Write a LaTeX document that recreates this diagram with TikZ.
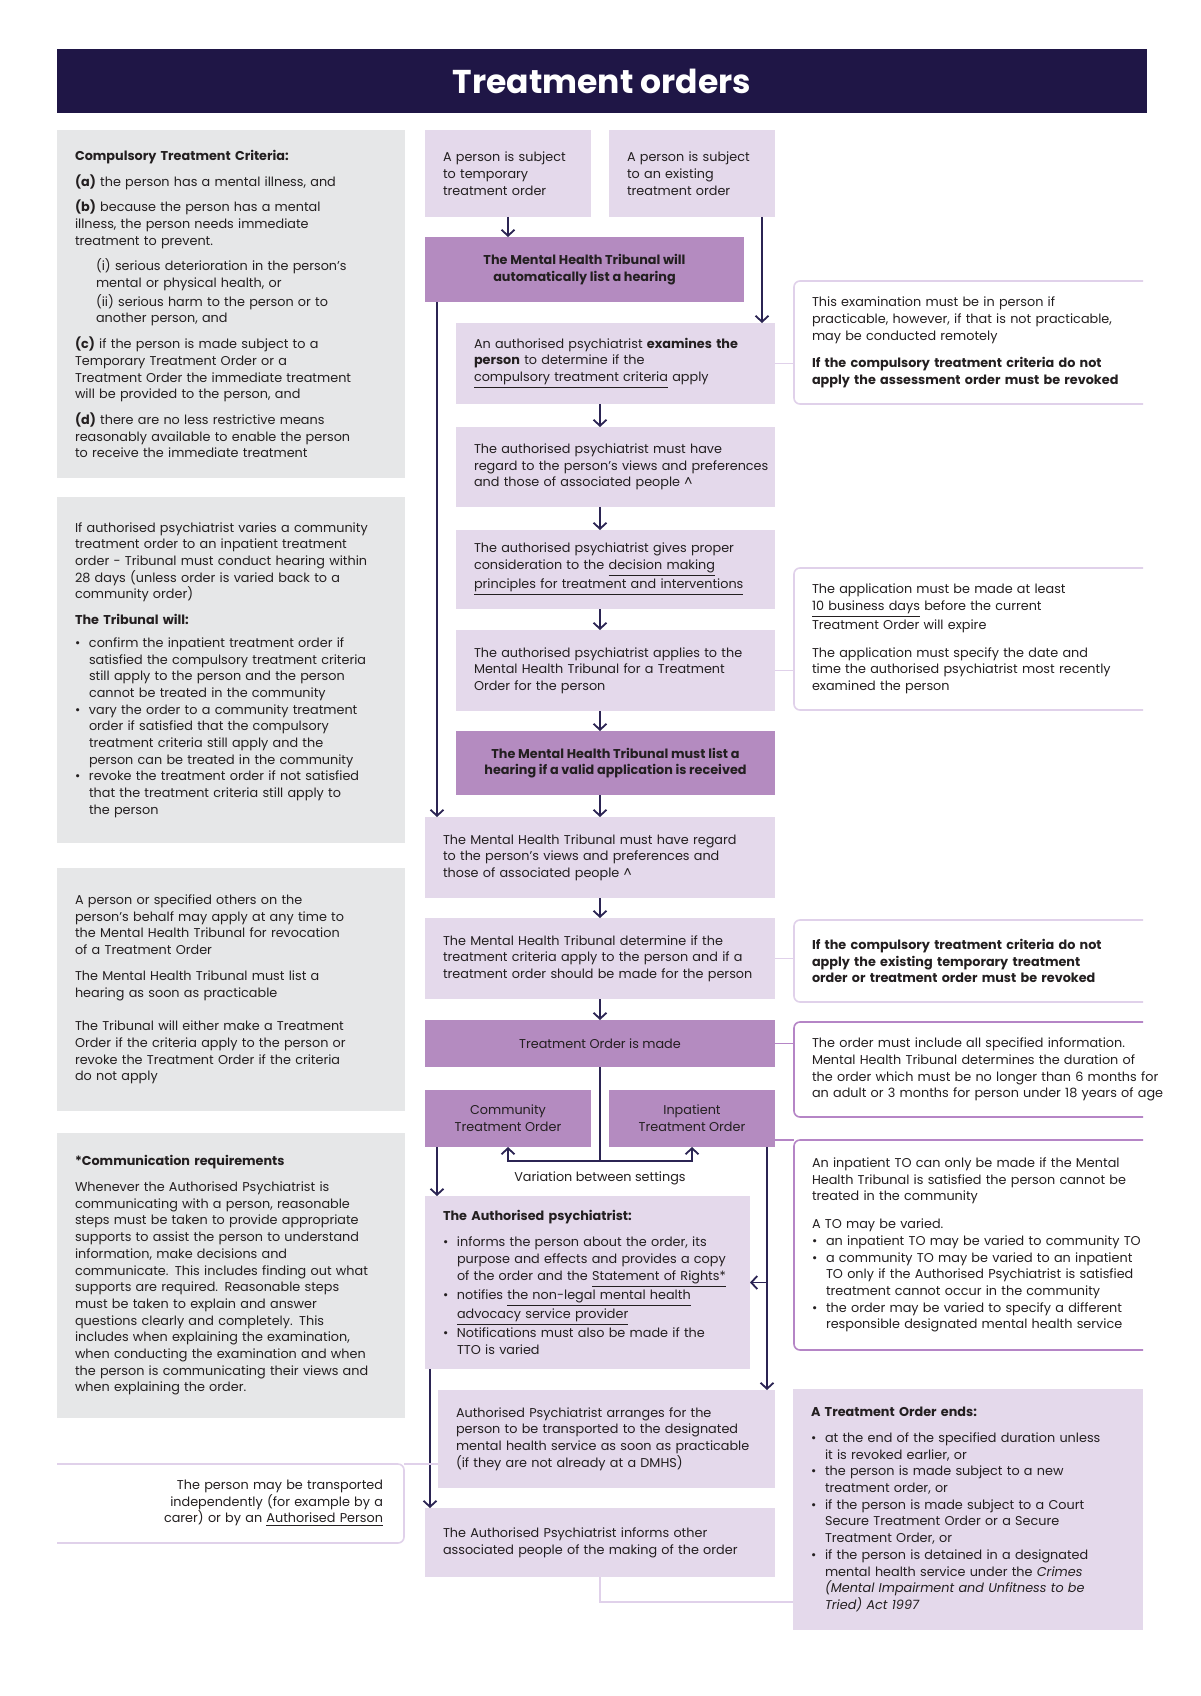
\documentclass[tikz,border=0pt]{standalone}
\usepackage{fontspec}
\setmainfont{Poppins}
\usepackage{tikz}
\usetikzlibrary{arrows.meta}
\usetikzlibrary{positioning}
\usetikzlibrary{calc}
\definecolor{navy}{HTML}{1F1646}
\definecolor{arrowink}{HTML}{2B2453}
\definecolor{ink}{HTML}{231F20}
\definecolor{greyfill}{HTML}{E6E7E8}
\definecolor{lilac}{HTML}{E4D9EB}
\definecolor{mauve}{HTML}{B48BC0}
\definecolor{rimlight}{HTML}{E0D1EA}
\definecolor{rimdark}{HTML}{B585C6}
\setlength{\parindent}{0pt}
\newcommand{\gapline}[1][4.5pt]{\par\vspace{#1}}
\newcommand{\bitem}{\par\noindent\makebox[7pt][l]{\textbullet}}
\newcommand{\bnl}{\\\hspace*{7pt}}
\tikzset{every node/.style={inner ysep=2pt, outer sep=0pt, text=ink, font={\fontsize{6.4}{8.35}\selectfont}}}
\tikzstyle{panel} = [anchor=north west, inner xsep=9pt, execute at begin node={\rightskip=-30pt plus 1fil}]
\tikzstyle{greypanel} = [panel, fill=greyfill, minimum width=174pt, text width=156pt]
\tikzstyle{lilacpanel} = [panel, fill=lilac]
\tikzstyle{notepanel} = [panel, minimum width=174.5pt, text width=156.5pt]
\tikzstyle{banner} = [anchor=north west, fill=mauve, align=center, inner xsep=4pt]
\tikzstyle{boldtext} = [font={\fontsize{6.4}{8.35}\selectfont\bfseries}]
\tikzstyle{header} = [anchor=north west, fill=navy, minimum width=545pt, minimum height=32pt, text=white, font={\fontsize{16.5}{18}\selectfont\bfseries}]
\tikzstyle{flow} = [draw=arrowink, line width=0.9pt, -{Straight Barb[length=3pt,width=6.5pt]}]
\tikzstyle{flowline} = [draw=arrowink, line width=0.9pt]
\tikzstyle{link} = [draw=rimlight, line width=0.8pt]
\tikzstyle{linkdark} = [draw=rimdark, line width=0.8pt]
\tikzstyle{rim} = [draw=rimlight, line width=0.8pt, rounded corners=3pt]
\tikzstyle{rimstrong} = [draw=rimdark, line width=0.8pt, rounded corners=3pt]

\begin{document}
\begin{tikzpicture}[x=0.5pt, y=-0.5pt]
  \fill[white] (0,0) rectangle (1200,1696);
  \useasboundingbox (0,0) rectangle (1200,1696);

  \node[header] (title) at (57,49) {Treatment orders};

  % left column
  \node[greypanel, minimum height=174pt] (criteria) at (57,130) {\textbf{Compulsory Treatment Criteria:}\gapline
    \textbf{(a)} the person has a mental illness, and\gapline
    \textbf{(b)} because the person has a mental\\ illness, the person needs immediate\\ treatment to prevent.\gapline
    \hspace*{10.5pt}(i) serious deterioration in the person's\\ \hspace*{10.5pt}mental or physical health, or\gapline[1pt]
    \hspace*{10.5pt}(ii) serious harm to the person or to\\ \hspace*{10.5pt}another person, and\gapline
    \textbf{(c)} if the person is made subject to a\\ Temporary Treatment Order or a\\ Treatment Order the immediate treatment\\ will be provided to the person, and\gapline
    \textbf{(d)} there are no less restrictive means\\ reasonably available to enable the person\\ to receive the immediate treatment};
  \node[greypanel, minimum height=173pt] (varies) at (57,497) {If authorised psychiatrist varies a community\\ treatment order to an inpatient treatment\\ order - Tribunal must conduct hearing within\\ 28 days (unless order is varied back to a\\ community order)\gapline
    \textbf{The Tribunal will:}\gapline[3pt]
    \bitem confirm the inpatient treatment order if\bnl satisfied the compulsory treatment criteria\bnl still apply to the person and the person\bnl cannot be treated in the community
    \bitem vary the order to a community treatment\bnl order if satisfied that the compulsory\bnl treatment criteria still apply and the\bnl person can be treated in the community
    \bitem revoke the treatment order if not satisfied\bnl that the treatment criteria still apply to\bnl the person};
  \node[greypanel, minimum height=121.5pt] (revocation) at (57,868) {A person or specified others on the\\ person's behalf may apply at any time to\\ the Mental Health Tribunal for revocation\\ of a Treatment Order\gapline
    The Mental Health Tribunal must list a\\ hearing as soon as practicable\gapline[8.5pt]
    The Tribunal will either make a Treatment\\ Order if the criteria apply to the person or\\ revoke the Treatment Order if the criteria\\ do not apply};
  \node[greypanel, minimum height=142.5pt] (commreq) at (57,1133) {\textbf{*Communication requirements}\gapline
    Whenever the Authorised Psychiatrist is\\ communicating with a person, reasonable\\ steps must be taken to provide appropriate\\ supports to assist the person to understand\\ information, make decisions and\\ communicate. This includes finding out what\\ supports are required. Reasonable steps\\ must be taken to explain and answer\\ questions clearly and completely. This\\ includes when explaining the examination,\\ when conducting the examination and when\\ the person is communicating their views and\\ when explaining the order.};
  \node[anchor=north west, inner xsep=10.5pt, minimum width=173.5pt, minimum height=39.5pt, text width=152.5pt, align=right] (transport) at (57,1464) {The person may be transported\\ independently (for example by a\\ carer) or by an \underline{Authorised Person}};
  \draw[rim] (transport.north west) -| (transport.east) |- (transport.south west);

  % middle column
  \node[lilacpanel, minimum width=83pt, minimum height=43.5pt, text width=65pt] (tempto) at (425,130) {A person is subject\\ to temporary\\ treatment order};
  \node[lilacpanel, minimum width=83pt, minimum height=43.5pt, text width=65pt] (exto) at (609,130) {A person is subject\\ to an existing\\ treatment order};
  \node[banner, boldtext, minimum width=159.5pt, minimum height=32.5pt] (autolist) at (425,237) {The Mental Health Tribunal will\\ automatically list a hearing};
  \node[lilacpanel, minimum width=159.5pt, minimum height=40.5pt, text width=141.5pt] (examine) at (456,323) {An authorised psychiatrist \textbf{examines the}\\ \textbf{person} to determine if the\\ \underline{compulsory treatment criteria} apply};
  \node[lilacpanel, minimum width=159.5pt, minimum height=40pt, text width=141.5pt] (views) at (456,427) {The authorised psychiatrist must have\\ regard to the person's views and preferences\\ and those of associated people \textasciicircum};
  \node[lilacpanel, minimum width=159.5pt, minimum height=39.5pt, text width=141.5pt] (principles) at (456,530) {The authorised psychiatrist gives proper\\ consideration to the \underline{decision making}\\ \underline{principles for treatment and interventions}};
  \node[lilacpanel, minimum width=159.5pt, minimum height=40.5pt, text width=141.5pt] (applies) at (456,630) {The authorised psychiatrist applies to the\\ Mental Health Tribunal for a Treatment\\ Order for the person};
  \node[banner, boldtext, minimum width=159.5pt, minimum height=32pt] (mustlist) at (456,731) {The Mental Health Tribunal must list a\\ hearing if a valid application is received};
  \node[lilacpanel, minimum width=175pt, minimum height=40.5pt, text width=157pt] (regard) at (425,817) {The Mental Health Tribunal must have regard\\ to the person's views and preferences and\\ those of associated people \textasciicircum};
  \node[lilacpanel, minimum width=175pt, minimum height=40.5pt, text width=157pt] (determine) at (425,918) {The Mental Health Tribunal determine if the\\ treatment criteria apply to the person and if a\\ treatment order should be made for the person};
  \node[banner, minimum width=175pt, minimum height=23.5pt] (made) at (425,1020) {Treatment Order is made};
  \node[banner, minimum width=83pt, minimum height=28.5pt] (cto) at (425,1090) {Community\\ Treatment Order};
  \node[banner, minimum width=83pt, minimum height=28.5pt] (ito) at (609,1090) {Inpatient\\ Treatment Order};
  \node (varlabel) at (600,1178) {Variation between settings};
  \node[lilacpanel, minimum width=162.5pt, minimum height=86.5pt, text width=144.5pt] (authpsy) at (425,1196) {\textbf{The Authorised psychiatrist:}\gapline
    \bitem informs the person about the order, its\bnl purpose and effects and provides a copy\bnl of the order and the \underline{Statement of Rights*}
    \bitem notifies \underline{the non-legal mental health}\bnl \underline{advocacy service provider}
    \bitem Notifications must also be made if the\bnl TTO is varied};
  \node[lilacpanel, minimum width=168.5pt, minimum height=49pt, text width=150.5pt] (arrange) at (438,1390) {Authorised Psychiatrist arranges for the\\ person to be transported to the designated\\ mental health service as soon as practicable\\ (if they are not already at a DMHS)};
  \node[lilacpanel, minimum width=175pt, minimum height=34.5pt, text width=157pt] (informs) at (425,1508) {The Authorised Psychiatrist informs other\\ associated people of the making of the order};

  % right column
  \node[notepanel, minimum height=61.5pt] (exnote) at (794,281) {This examination must be in person if\\ practicable, however, if that is not practicable,\\ may be conducted remotely\gapline[5.5pt]
    \textbf{If the compulsory treatment criteria do not}\\ \textbf{apply the assessment order must be revoked}};
  \draw[rim] (exnote.north east) -| (exnote.west) |- (exnote.south east);
  \node[notepanel, minimum height=71pt] (appnote) at (794,568) {The application must be made at least\\ \underline{10 business days} before the current\\ Treatment Order will expire\gapline[5.5pt]
    The application must specify the date and\\ time the authorised psychiatrist most recently\\ examined the person};
  \draw[rim] (appnote.north east) -| (appnote.west) |- (appnote.south east);
  \node[notepanel, boldtext, minimum height=41pt] (revnote) at (794,920) {If the compulsory treatment criteria do not\\ apply the existing temporary treatment\\ order or treatment order must be revoked};
  \draw[rim] (revnote.north east) -| (revnote.west) |- (revnote.south east);
  \node[notepanel, minimum height=47.5pt] (ordnote) at (794,1022) {The order must include all specified information.\\ Mental Health Tribunal determines the duration of\\ the order which must be no longer than 6 months for\\ an adult or 3 months for person under 18 years of age};
  \draw[rimstrong] (ordnote.north east) -| (ordnote.west) |- (ordnote.south east);
  \node[notepanel, minimum height=105pt] (inpnote) at (794,1140) {An inpatient TO can only be made if the Mental\\ Health Tribunal is satisfied the person cannot be\\ treated in the community\gapline[5.5pt]
    A TO may be varied.
    \bitem an inpatient TO may be varied to community TO
    \bitem a community TO may be varied to an inpatient\bnl TO only if the Authorised Psychiatrist is satisfied\bnl treatment cannot occur in the community
    \bitem the order may be varied to specify a different\bnl responsible designated mental health service};
  \draw[rimstrong] (inpnote.north east) -| (inpnote.west) |- (inpnote.south east);
  \node[lilacpanel, minimum width=175pt, minimum height=120.5pt, text width=157pt] (ends) at (793,1389) {\textbf{A Treatment Order ends:}\gapline
    \bitem at the end of the specified duration unless\bnl it is revoked earlier, or
    \bitem the person is made subject to a new\bnl treatment order, or
    \bitem if the person is made subject to a Court\bnl Secure Treatment Order or a Secure\bnl Treatment Order, or
    \bitem if the person is detained in a designated\bnl mental health service under the \textit{Crimes}\bnl \textit{(Mental Impairment and Unfitness to be}\bnl \textit{Tried) Act 1997}};

  % flow arrows
  \coordinate (exdrop) at ([xshift=-6.5pt]exto.south east);
  \coordinate (autodrop) at ([xshift=6pt]autolist.south west);
  \coordinate (split) at (600,1161);
  \coordinate (ctodrop) at ([xshift=6pt]cto.south west);
  \coordinate (itodrop) at ([xshift=-4pt]ito.south east);
  \coordinate (apdrop) at ([xshift=2.5pt]authpsy.south west);
  \draw[flow] (tempto.south) -- (tempto.south |- autolist.north);
  \draw[flow] (exdrop) -- (exdrop |- examine.north);
  \draw[flow] (autodrop) -- (autodrop |- regard.north);
  \draw[flow] (examine.south -| regard.north) -- (views.north -| regard.north);
  \draw[flow] (views.south -| regard.north) -- (principles.north -| regard.north);
  \draw[flow] (principles.south -| regard.north) -- (applies.north -| regard.north);
  \draw[flow] (applies.south -| regard.north) -- (mustlist.north -| regard.north);
  \draw[flow] (mustlist.south -| regard.north) -- (regard.north);
  \draw[flow] (regard.south) -- (determine.north);
  \draw[flow] (determine.south) -- (made.north);
  \draw[flowline] (made.south) -- (split);
  \draw[flow] (split) -| (cto.south);
  \draw[flow] (split) -| (ito.south);
  \draw[flow] (ctodrop) -- (ctodrop |- authpsy.north);
  \draw[flow] (itodrop) -- (itodrop |- arrange.north);
  \draw[flow] (itodrop |- authpsy.east) -- (authpsy.east);
  \draw[flow] (apdrop) -- (apdrop |- informs.north);

  % note links
  \coordinate (endslink) at (793,1602);
  \draw[link] (examine.east) -- (exnote.west |- examine.east);
  \draw[link] (applies.east) -- (appnote.west |- applies.east);
  \draw[link] (determine.east) -- (revnote.west |- determine.east);
  \draw[linkdark] (made.east) -- (ordnote.west |- made.east);
  \draw[linkdark] (inpnote.north west -| ito.east) -- (inpnote.north west);
  \draw[link] (transport.north east) -- (transport.north east -| arrange.west);
  \draw[link] (informs.south) |- (endslink);
\end{tikzpicture}
\end{document}
